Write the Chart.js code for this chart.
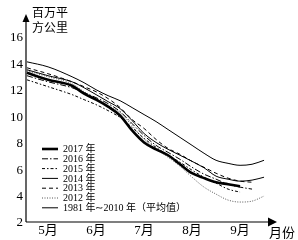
<!DOCTYPE html>
<html>
<head>
<meta charset="utf-8">
<script src="https://cdn.jsdelivr.net/npm/chart.js@4"></script>
<style>
  html, body { margin: 0; padding: 0; background: #fff; }
  canvas { display: block; }
</style>
</head>
<body>
<canvas id="chart" width="298" height="240"></canvas>
<script>
// x positions in months (5 = May label position)
const months = [4.56, 5.0, 5.5, 5.75, 6.0, 6.25, 6.5, 6.75, 7.0, 7.25, 7.5, 7.75, 8.0, 8.25, 8.5, 8.75, 9.0, 9.25, 9.5];

const y2017 = [13.29, 12.76, 12.31, 11.71, 11.26, 10.73, 10.06, 8.93, 8.02, 7.50, 7.05, 6.37, 5.69, 5.32, 5.01, 4.86, 4.71, null, null];
const y2016 = [13.07, 12.61, 12.16, 11.79, 11.41, 10.96, 10.36, 9.45, 8.55, 7.80, 7.27, 6.74, 6.14, 5.62, 5.24, 4.86, 4.64, 4.49, null];
const y2015 = [12.76, 12.24, 11.64, 11.26, 10.88, 10.43, 9.91, 9.15, 8.33, 7.65, 7.05, 6.52, 5.92, 5.39, 4.94, 4.49, 4.26, null, null];
const y2014 = [13.52, 13.07, 12.61, 12.16, 11.64, 11.11, 10.58, 9.68, 8.70, 8.02, 7.50, 7.05, 6.59, 6.10, 5.47, 5.24, 5.09, 5.17, 5.39];
const y2013 = [13.67, 13.22, 12.61, 12.24, 11.86, 11.34, 10.66, 9.75, 9.08, 8.25, 7.57, 7.12, 6.59, 6.14, 5.69, 5.32, 5.09, 5.01, null];
const y2012 = [13.44, 12.99, 12.46, 11.86, 11.33, 10.81, 10.28, 9.30, 8.25, 7.50, 6.90, 6.22, 5.39, 4.64, 4.11, 3.66, 3.51, 3.58, 3.96];
const yAvg = [14.12, 13.74, 12.99, 12.54, 12.01, 11.56, 11.18, 10.66, 10.13, 9.60, 9.00, 8.40, 7.80, 7.20, 6.67, 6.44, 6.29, 6.37, 6.67];

const monthTicks = [5, 6, 7, 8, 9];
const monthLabels = ['5月', '6月', '7月', '8月', '9月'];
const yTicks = [16, 14, 12, 10, 8, 6, 4, 2];

const legendLabels = ['2017 年', '2016 年', '2015 年', '2014 年', '2013 年', '2012 年', '1981 年∼2010 年（平均值）'];

const serif = "'Liberation Serif', 'Noto Sans CJK SC', serif";
const cjk = "'Noto Sans CJK SC', sans-serif";

function pts(arr) {
    return months.map((m, i) => ({ x: m, y: arr[i] })).filter(p => p.y !== null);
}

function ds(label, arr, width, dash, color) {
    return {
        label: label,
        data: pts(arr),
        borderColor: color || '#000',
        borderWidth: width,
        borderDash: dash,
        pointRadius: 0,
        fill: false,
        cubicInterpolationMode: 'monotone'
    };
}

const axesPlugin = {
    id: 'axesPlugin',
    afterDraw(chart) {
        const c = chart.ctx;
        const xs = chart.scales.x;
        const ys = chart.scales.y;
        const x0 = xs.left;
        const y0 = ys.bottom;
        c.save();
        c.strokeStyle = '#000';
        c.fillStyle = '#000';
        c.lineWidth = 1.2;
        // y axis + arrow
        c.beginPath();
        c.moveTo(x0, y0);
        c.lineTo(x0, 20);
        c.stroke();
        c.beginPath();
        c.moveTo(x0, 14);
        c.lineTo(x0 - 3.5, 22);
        c.lineTo(x0 + 3.5, 22);
        c.closePath();
        c.fill();
        // x axis + arrow
        c.beginPath();
        c.moveTo(x0, y0);
        c.lineTo(xs.right - 6, y0);
        c.stroke();
        c.beginPath();
        c.moveTo(xs.right, y0);
        c.lineTo(xs.right - 9, y0 - 4.5);
        c.lineTo(xs.right - 9, y0 + 4.5);
        c.closePath();
        c.fill();

        // y tick labels
        c.font = '13px ' + serif;
        c.textAlign = 'right';
        c.textBaseline = 'middle';
        yTicks.forEach(v => {
            c.fillText(String(v), x0 - 3, ys.getPixelForValue(v) + 1);
        });

        // x tick labels
        c.textAlign = 'center';
        c.font = '13px ' + serif;
        monthTicks.forEach((m, i) => {
            c.fillText(monthLabels[i], xs.getPixelForValue(m), 231);
        });
        c.font = '13px ' + cjk;
        c.fillText('月份', 282, 232);

        // y title
        c.textAlign = 'left';
        c.font = '12px ' + cjk;
        c.fillText('百万平', 32, 12);
        c.fillText('方公里', 32, 27);

        // legend
        c.font = '10px ' + serif;
        chart.data.datasets.forEach((d, i) => {
            const ly = 149 + i * 9.8;
            c.save();
            c.strokeStyle = d.borderColor;
            c.lineWidth = d.borderWidth;
            c.setLineDash(d.borderDash || []);
            c.beginPath();
            c.moveTo(42, ly);
            c.lineTo(58, ly);
            c.stroke();
            c.restore();
            c.fillStyle = '#000';
            c.textAlign = 'left';
            c.fillText(legendLabels[i], 63, ly + 0.5);
        });
        c.restore();
    }
};

new Chart(document.getElementById('chart').getContext('2d'), {
    type: 'line',
    data: {
        datasets: [
            ds(legendLabels[0], y2017, 2.6, []),
            ds(legendLabels[1], y2016, 1, [6, 2, 1.5, 2]),
            ds(legendLabels[2], y2015, 1, [3, 2, 1.5, 2]),
            ds(legendLabels[3], y2014, 1, []),
            ds(legendLabels[4], y2013, 1, [4, 3]),
            ds(legendLabels[5], y2012, 1, [1, 1.5], '#555'),
            ds(legendLabels[6], yAvg, 1, [])
        ]
    },
    options: {
        responsive: false,
        animation: false,
        layout: { padding: { left: 26, right: 21, top: 37, bottom: 18 } },
        scales: {
            x: { type: 'linear', display: false, min: 4.54, max: 9.77 },
            y: { display: false, min: 2, max: 16 }
        },
        plugins: {
            legend: { display: false },
            tooltip: { enabled: false }
        }
    },
    plugins: [axesPlugin]
});
</script>
</body>
</html>
